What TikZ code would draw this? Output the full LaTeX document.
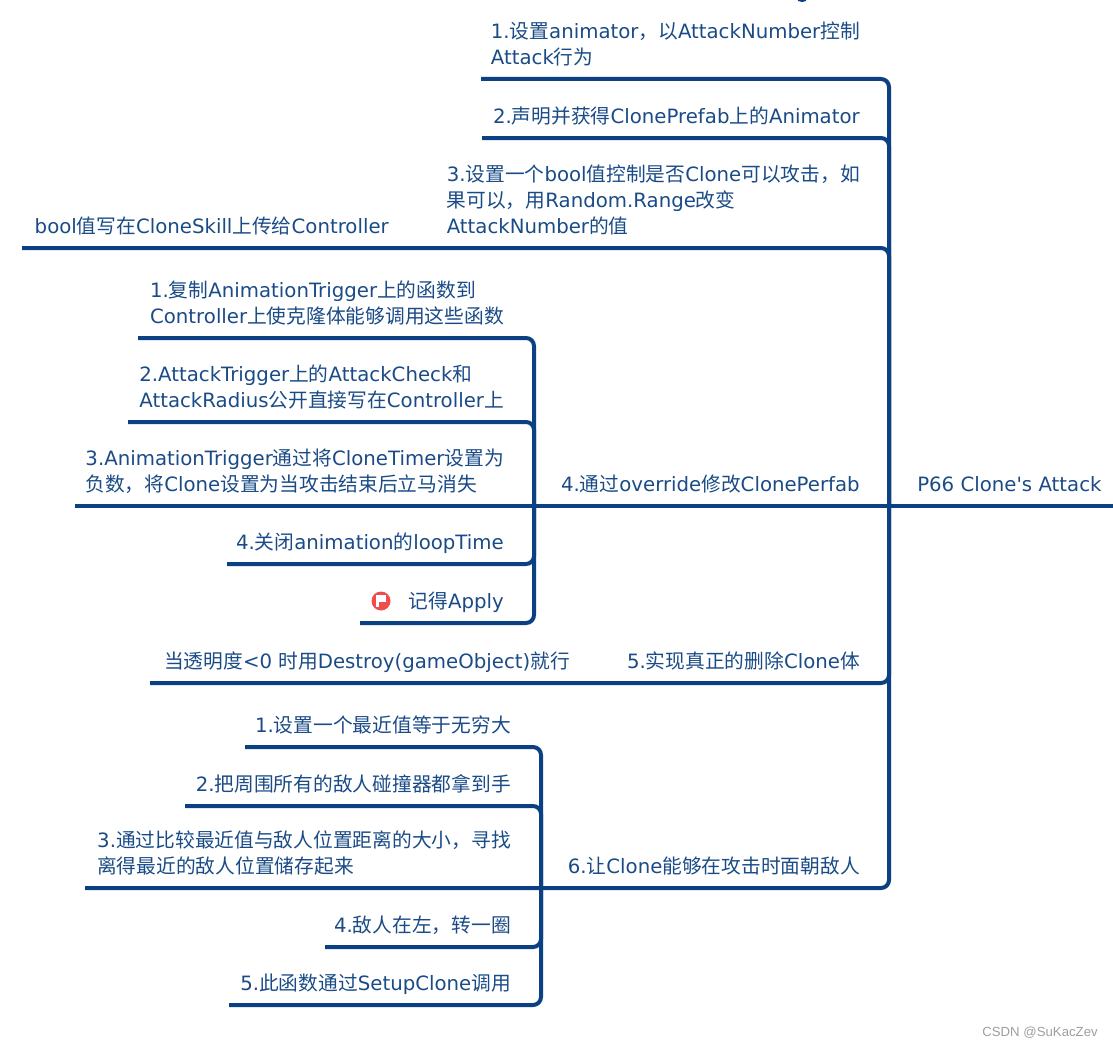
\documentclass[tikz,border=0pt]{standalone}
\usepackage{fontspec}
\setmainfont{DejaVu Sans}
\newfontfamily\cjkfont{Noto Sans CJK SC}
\newfontfamily\wmfont{Liberation Sans}
\XeTeXinterchartokenstate=1
\newXeTeXintercharclass\CJKcls
\makeatletter
\count@="4E00
\loop
  \XeTeXcharclass\count@=\CJKcls
  \ifnum\count@<"9FFF \advance\count@ by 1
\repeat
\makeatother
\XeTeXcharclass"FF0C=\CJKcls
\XeTeXcharclass"3001=\CJKcls
\XeTeXinterchartoks 0 \CJKcls = {\begingroup\cjkfont}
\XeTeXinterchartoks 4095 \CJKcls = {\begingroup\cjkfont}
\XeTeXinterchartoks \CJKcls 0 = {\endgroup}
\XeTeXinterchartoks \CJKcls 4095 = {\endgroup}
\definecolor{ln}{HTML}{0B4183}
\definecolor{tx}{HTML}{1A4B86}
\definecolor{flagred}{HTML}{F04E4E}
\begin{document}
\begin{tikzpicture}[x=0.75pt,y=-0.75pt,
  txt/.style={inner sep=0pt, text=tx, font=\fontsize{14.8pt}{19.2pt}\selectfont,
    align=left, yshift=-7.5pt, execute at end node={\rule[-4pt]{0pt}{4pt}}},
  br/.style={draw=ln, line width=3pt, rounded corners=6pt},
  wm/.style={inner sep=0pt, text=black!38, font=\wmfont\fontsize{9.9pt}{12pt}\selectfont}]
\useasboundingbox (0,0) rectangle (1113,1049);
% spine coordinates
\coordinate (vM) at (889,506);
\coordinate (vA) at (534,506);
\coordinate (vB) at (541,888);
% line ends
\coordinate (b1L) at (481,79);
\coordinate (b2L) at (482,138);
\coordinate (b3L) at (22,248);
\coordinate (spL) at (75,506);
\coordinate (spR) at (1113,506);
\coordinate (b5L) at (150,683);
\coordinate (b6L) at (85,888);
\coordinate (c1L) at (138,338);
\coordinate (c2L) at (128,422);
\coordinate (c4L) at (227,564);
\coordinate (c5L) at (360,623);
\coordinate (d1L) at (245,747);
\coordinate (d2L) at (185,806);
\coordinate (d4L) at (325,947);
\coordinate (d5L) at (229,1005);
% main branches
\draw[br] (b1L) -- (b1L -| vM) -- (vM);
\draw[br] (b2L) -- (b2L -| vM) -- (vM);
\draw[br] (b3L) -- (b3L -| vM) -- (vM);
\draw[br] (b5L) -- (b5L -| vM) -- (vM);
\draw[br] (b6L) -- (b6L -| vM) -- (vM);
\draw[br] (spL) -- (spR);
% branch 4 children
\draw[br] (c1L) -- (c1L -| vA) -- (vA);
\draw[br] (c2L) -- (c2L -| vA) -- (vA);
\draw[br] (c4L) -- (c4L -| vA) -- (vA);
\draw[br] (c5L) -- (c5L -| vA) -- (vA);
% branch 6 children
\draw[br] (d1L) -- (d1L -| vB) -- (vB);
\draw[br] (d2L) -- (d2L -| vB) -- (vB);
\draw[br] (d4L) -- (d4L -| vB) -- (vB);
\draw[br] (d5L) -- (d5L -| vB) -- (vB);
% texts
\node[txt, anchor=south west] (root) at (917,486.7) {P66 Clone\textquotesingle s Attack};
\node[txt, anchor=south east] (b1) at (860,59.7) {1.设置animator，以AttackNumber控制\\Attack行为};
\node[txt, anchor=south east] (b2) at (860,118.7) {2.声明并获得ClonePrefab上的Animator};
\node[txt, anchor=south east] (b3) at (860,228.7) {3.设置一个bool值控制是否Clone可以攻击，如\\果可以，用Random.Range改变\\AttackNumber的值};
\node[txt, anchor=south east] (b3a) at (389,228.7) {bool值写在CloneSkill上传给Controller};
\node[txt, anchor=south east] (b4) at (860,486.7) {4.通过override修改ClonePerfab};
\node[txt, anchor=south east] (b5) at (860,663.7) {5.实现真正的删除Clone体};
\node[txt, anchor=south east] (b5a) at (570,663.7) {当透明度<0 时用Destroy(gameObject)就行};
\node[txt, anchor=south east] (b6) at (860,868.7) {6.让Clone能够在攻击时面朝敌人};
\node[txt, anchor=south east] (c1) at (504,318.7) {1.复制AnimationTrigger上的函数到\\Controller上使克隆体能够调用这些函数};
\node[txt, anchor=south east] (c2) at (504,402.7) {2.AttackTrigger上的AttackCheck和\\AttackRadius公开直接写在Controller上};
\node[txt, anchor=south east] (c3) at (504,486.7) {3.AnimationTrigger通过将CloneTimer设置为\\负数，将Clone设置为当攻击结束后立马消失};
\node[txt, anchor=south east] (c4) at (504,544.7) {4.关闭animation的loopTime};
\node[txt, anchor=south east] (c5) at (504,603.7) {记得Apply};
\node[txt, anchor=south east] (d1) at (511,727.7) {1.设置一个最近值等于无穷大};
\node[txt, anchor=south east] (d2) at (511,786.7) {2.把周围所有的敌人碰撞器都拿到手};
\node[txt, anchor=south east] (d3) at (511,868.7) {3.通过比较最近值与敌人位置距离的大小，寻找\\离得最近的敌人位置储存起来};
\node[txt, anchor=south east] (d4) at (511,927.7) {4.敌人在左，转一圈};
\node[txt, anchor=south east] (d5) at (511,985.7) {5.此函数通过SetupClone调用};
% flag icon
\fill[flagred] (381,601) circle[radius=9.5];
\fill[white] (376,595) rectangle (386,602);
\fill[white] (376,595) rectangle (378.5,607);
% top fragment
\fill[ln] (802,-1) ellipse [x radius=5, y radius=3];
% watermark
\node[wm, anchor=east] (wmk) at (1098,1033) {CSDN @SuKacZev};
\end{tikzpicture}
\end{document}
